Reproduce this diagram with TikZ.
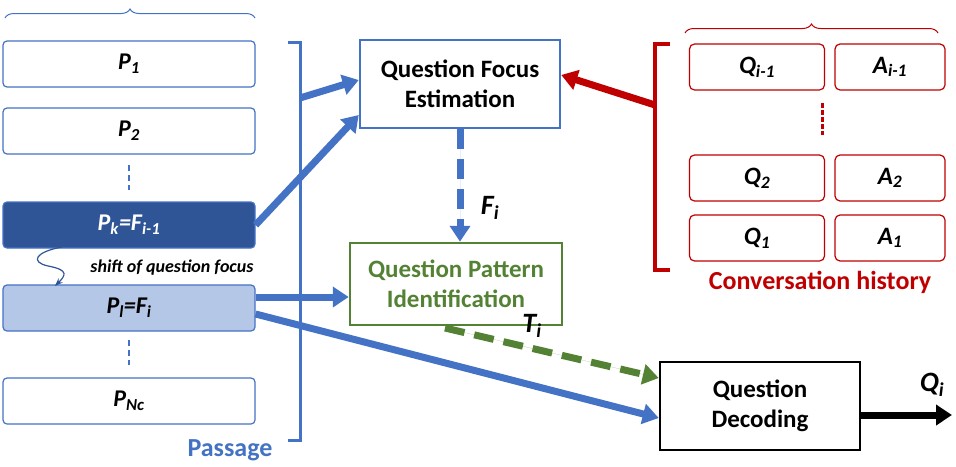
\documentclass[tikz,border=0pt]{standalone}
\usepackage{fontspec}
\setmainfont{Carlito}
\usetikzlibrary{positioning,arrows.meta,decorations.pathreplacing}
\definecolor{pblue}{HTML}{4472C4}
\definecolor{dblue}{HTML}{2F5597}
\definecolor{lblue}{HTML}{B4C7E7}
\definecolor{pgreen}{HTML}{548235}
\definecolor{pred}{HTML}{C00000}
\begin{document}
\begin{tikzpicture}[x=1pt,y=-1pt,
    pbox/.style = {rectangle, draw=pblue, line width=1.2pt, rounded corners=4pt, minimum width=252pt, minimum height=46pt, font=\fontsize{24}{26}\selectfont\bfseries\itshape},
    hbox/.style = {rectangle, draw=pred, line width=1.2pt, rounded corners=5pt, minimum height=46pt, font=\fontsize{25}{27}\selectfont\bfseries\itshape},
    mbox/.style = {rectangle, line width=2.5pt, align=center, font=\fontsize{25}{30}\selectfont\bfseries},
    line/.style = {line width=7pt, -{Triangle[length=16pt,width=20pt]}},
    dline/.style = {line width=7pt, dash pattern=on 20pt off 10pt, -{Triangle[length=16pt,width=20pt]}},
]
    \useasboundingbox (0,0) rectangle (956,466);

    % passage
    \node[pbox](p1) at (129,64){P\textsubscript{1}};
    \node[pbox](p2) at (129,131){P\textsubscript{2}};
    \node[pbox, fill=dblue, text=white](pk) at (129,225){P\textsubscript{k}=F\textsubscript{i-1}};
    \node[pbox, fill=lblue](pl) at (129,308){P\textsubscript{l}=F\textsubscript{i}};
    \node[pbox](pnc) at (129,401){P\textsubscript{Nc}};
    \draw[pblue, line width=2pt, dash pattern=on 6pt off 4pt] (129,165) -- (129,190);
    \draw[pblue, line width=2pt, dash pattern=on 6pt off 4pt] (129,340) -- (129,365);
    \draw[pblue, line width=1pt, decorate, decoration={brace, amplitude=9pt}] (5,18) -- (255,18);
    \draw[pblue, line width=3pt] (288,42) -- (300,42) -- (300,440) -- (288,440);
    \node[text=pblue, font=\fontsize{26}{28}\selectfont\bfseries](passage) at (230,450){Passage};
    \draw[dblue, line width=1.2pt, -{Stealth[length=8pt]}] (62,247) .. controls (35,252) and (30,262) .. (48,266) .. controls (70,270) and (65,276) .. (55,286);
    \node[font=\fontsize{18}{20}\selectfont\bfseries\itshape](shift) at (172,268){shift of question focus};

    % modules
    \node[mbox, draw=pblue, minimum width=200pt, minimum height=88pt](qfe) at (460,84){Question Focus\\Estimation};
    \node[mbox, draw=pgreen, text=pgreen, minimum width=212pt, minimum height=82pt](qpi) at (456,284){Question Pattern\\Identification};
    \node[mbox, draw=black, minimum width=200pt, minimum height=88pt](qd) at (760,406){Question\\Decoding};
    \coordinate (out) at (952,415);

    % history
    \node[hbox, minimum width=135pt](q1) at (757,67){Q\textsubscript{i-1}};
    \node[hbox, minimum width=110pt](a1) at (890,67){A\textsubscript{i-1}};
    \node[hbox, minimum width=135pt](q2) at (757,178){Q\textsubscript{2}};
    \node[hbox, minimum width=110pt](a2) at (890,178){A\textsubscript{2}};
    \node[hbox, minimum width=135pt](q3) at (757,238){Q\textsubscript{1}};
    \node[hbox, minimum width=110pt](a3) at (890,238){A\textsubscript{1}};
    \draw[pred, line width=3pt, dash pattern=on 5pt off 2pt] (822,103) -- (822,135);
    \draw[pred, line width=1pt, decorate, decoration={brace, amplitude=9pt}] (685,33) -- (938,33);
    \draw[pred, line width=4pt] (670,44) -- (655,44) -- (655,270) -- (670,270);
    \coordinate (hist) at (655,105);
    \node[text=pred, font=\fontsize{26}{28}\selectfont\bfseries](conv) at (820,282){Conversation history};

    % connectors
    \draw[line, draw=pblue, fill=pblue] (300,98) -- (qfe.west |- 0,80);
    \draw[line, draw=pblue, fill=pblue] (pk.east) -- (qfe.south west |- 0,115);
    \draw[dline, draw=pblue, fill=pblue] (qfe.south) -- (qfe.south |- qpi.north);
    \node[font=\fontsize{28}{30}\selectfont\bfseries\itshape](fi) at (490,208){F\textsubscript{i}};
    \draw[line, draw=pblue, fill=pblue] (pl.east |- 0,297) -- (qpi.west |- 0,297);
    \draw[line, draw=pblue, fill=pblue] (pl.east |- 0,314) -- (qd.west |- 0,418);
    \draw[dline, draw=pgreen, fill=pgreen] (445,328) -- (qd.west |- 0,378);
    \node[font=\fontsize{28}{30}\selectfont\bfseries\itshape](ti) at (532,326){T\textsubscript{i}};
    \draw[line, draw=pred, fill=pred] (hist) -- (qfe.east |- 0,75);
    \draw[line, draw=black, fill=black] (qd.east |- out) -- (out);
    \node[font=\fontsize{28}{30}\selectfont\bfseries\itshape](qi) at (932,385){Q\textsubscript{i}};
\end{tikzpicture}
\end{document}
